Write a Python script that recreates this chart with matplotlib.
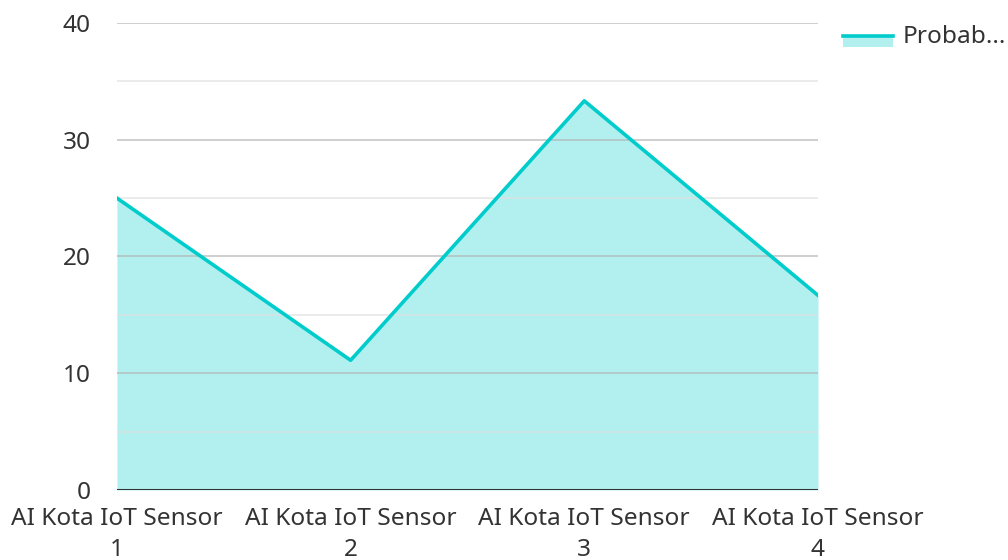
import matplotlib.pyplot as plt
from matplotlib.patches import Rectangle
from matplotlib.lines import Line2D

plt.rcParams['font.family'] = ['Noto Sans', 'DejaVu Sans']

# Data
kategori = ["AI Kota IoT Sensor\n1", "AI Kota IoT Sensor\n2",
            "AI Kota IoT Sensor\n3", "AI Kota IoT Sensor\n4"]
nilai = [25.0, 11.11, 33.33, 16.67]
nama_seri = "Probab..."

warna_garis = "#00CCCC"
warna_isi = "#B2EFEF"
ukuran = 17.6

fig = plt.figure(figsize=(10.08, 5.6), dpi=100)
ax = fig.add_axes([0.116, 0.125, 0.6955, 0.834])

x = list(range(len(nilai)))
ax.fill_between(x, nilai, 0, color=warna_isi, linewidth=0, zorder=1)
ax.plot(x, nilai, color=warna_garis, linewidth=2.6, zorder=3)

# Grid mayor & minor di atas area
for v in [10, 20, 30, 40]:
    ax.axhline(v, color="#b4b4b4", linewidth=1.2, alpha=0.75, zorder=2)
for v in [5, 15, 25, 35]:
    ax.axhline(v, color="#e0e0e0", linewidth=1.2, alpha=0.75, zorder=2)
ax.axhline(0, color="#333333", linewidth=2.2, zorder=4)

ax.set_xlim(0, 3)
ax.set_ylim(0, 40)
ax.set_yticks([0, 10, 20, 30, 40])
ax.set_xticks(x)
ax.set_xticklabels(kategori, fontsize=ukuran, color="#333333", linespacing=1.4)
ax.tick_params(axis='y', labelsize=ukuran, colors="#333333", length=0, pad=19)
ax.tick_params(axis='x', length=0, pad=12)
for s in ax.spines.values():
    s.set_visible(False)

# Legenda manual
fig.add_artist(Rectangle((843 / 1008, 1 - 47 / 560), 50 / 1008, 12 / 560,
                         transform=fig.transFigure, facecolor=warna_isi,
                         edgecolor='none'))
fig.add_artist(Line2D([843 / 1008, 893 / 1008], [1 - 36 / 560, 1 - 36 / 560],
                      transform=fig.transFigure, color=warna_garis, linewidth=2.6))
fig.text(903 / 1008, 1 - 37 / 560, nama_seri, fontsize=ukuran, color="#333333",
         va='center', ha='left')

fig.savefig("out.png", dpi=100)
